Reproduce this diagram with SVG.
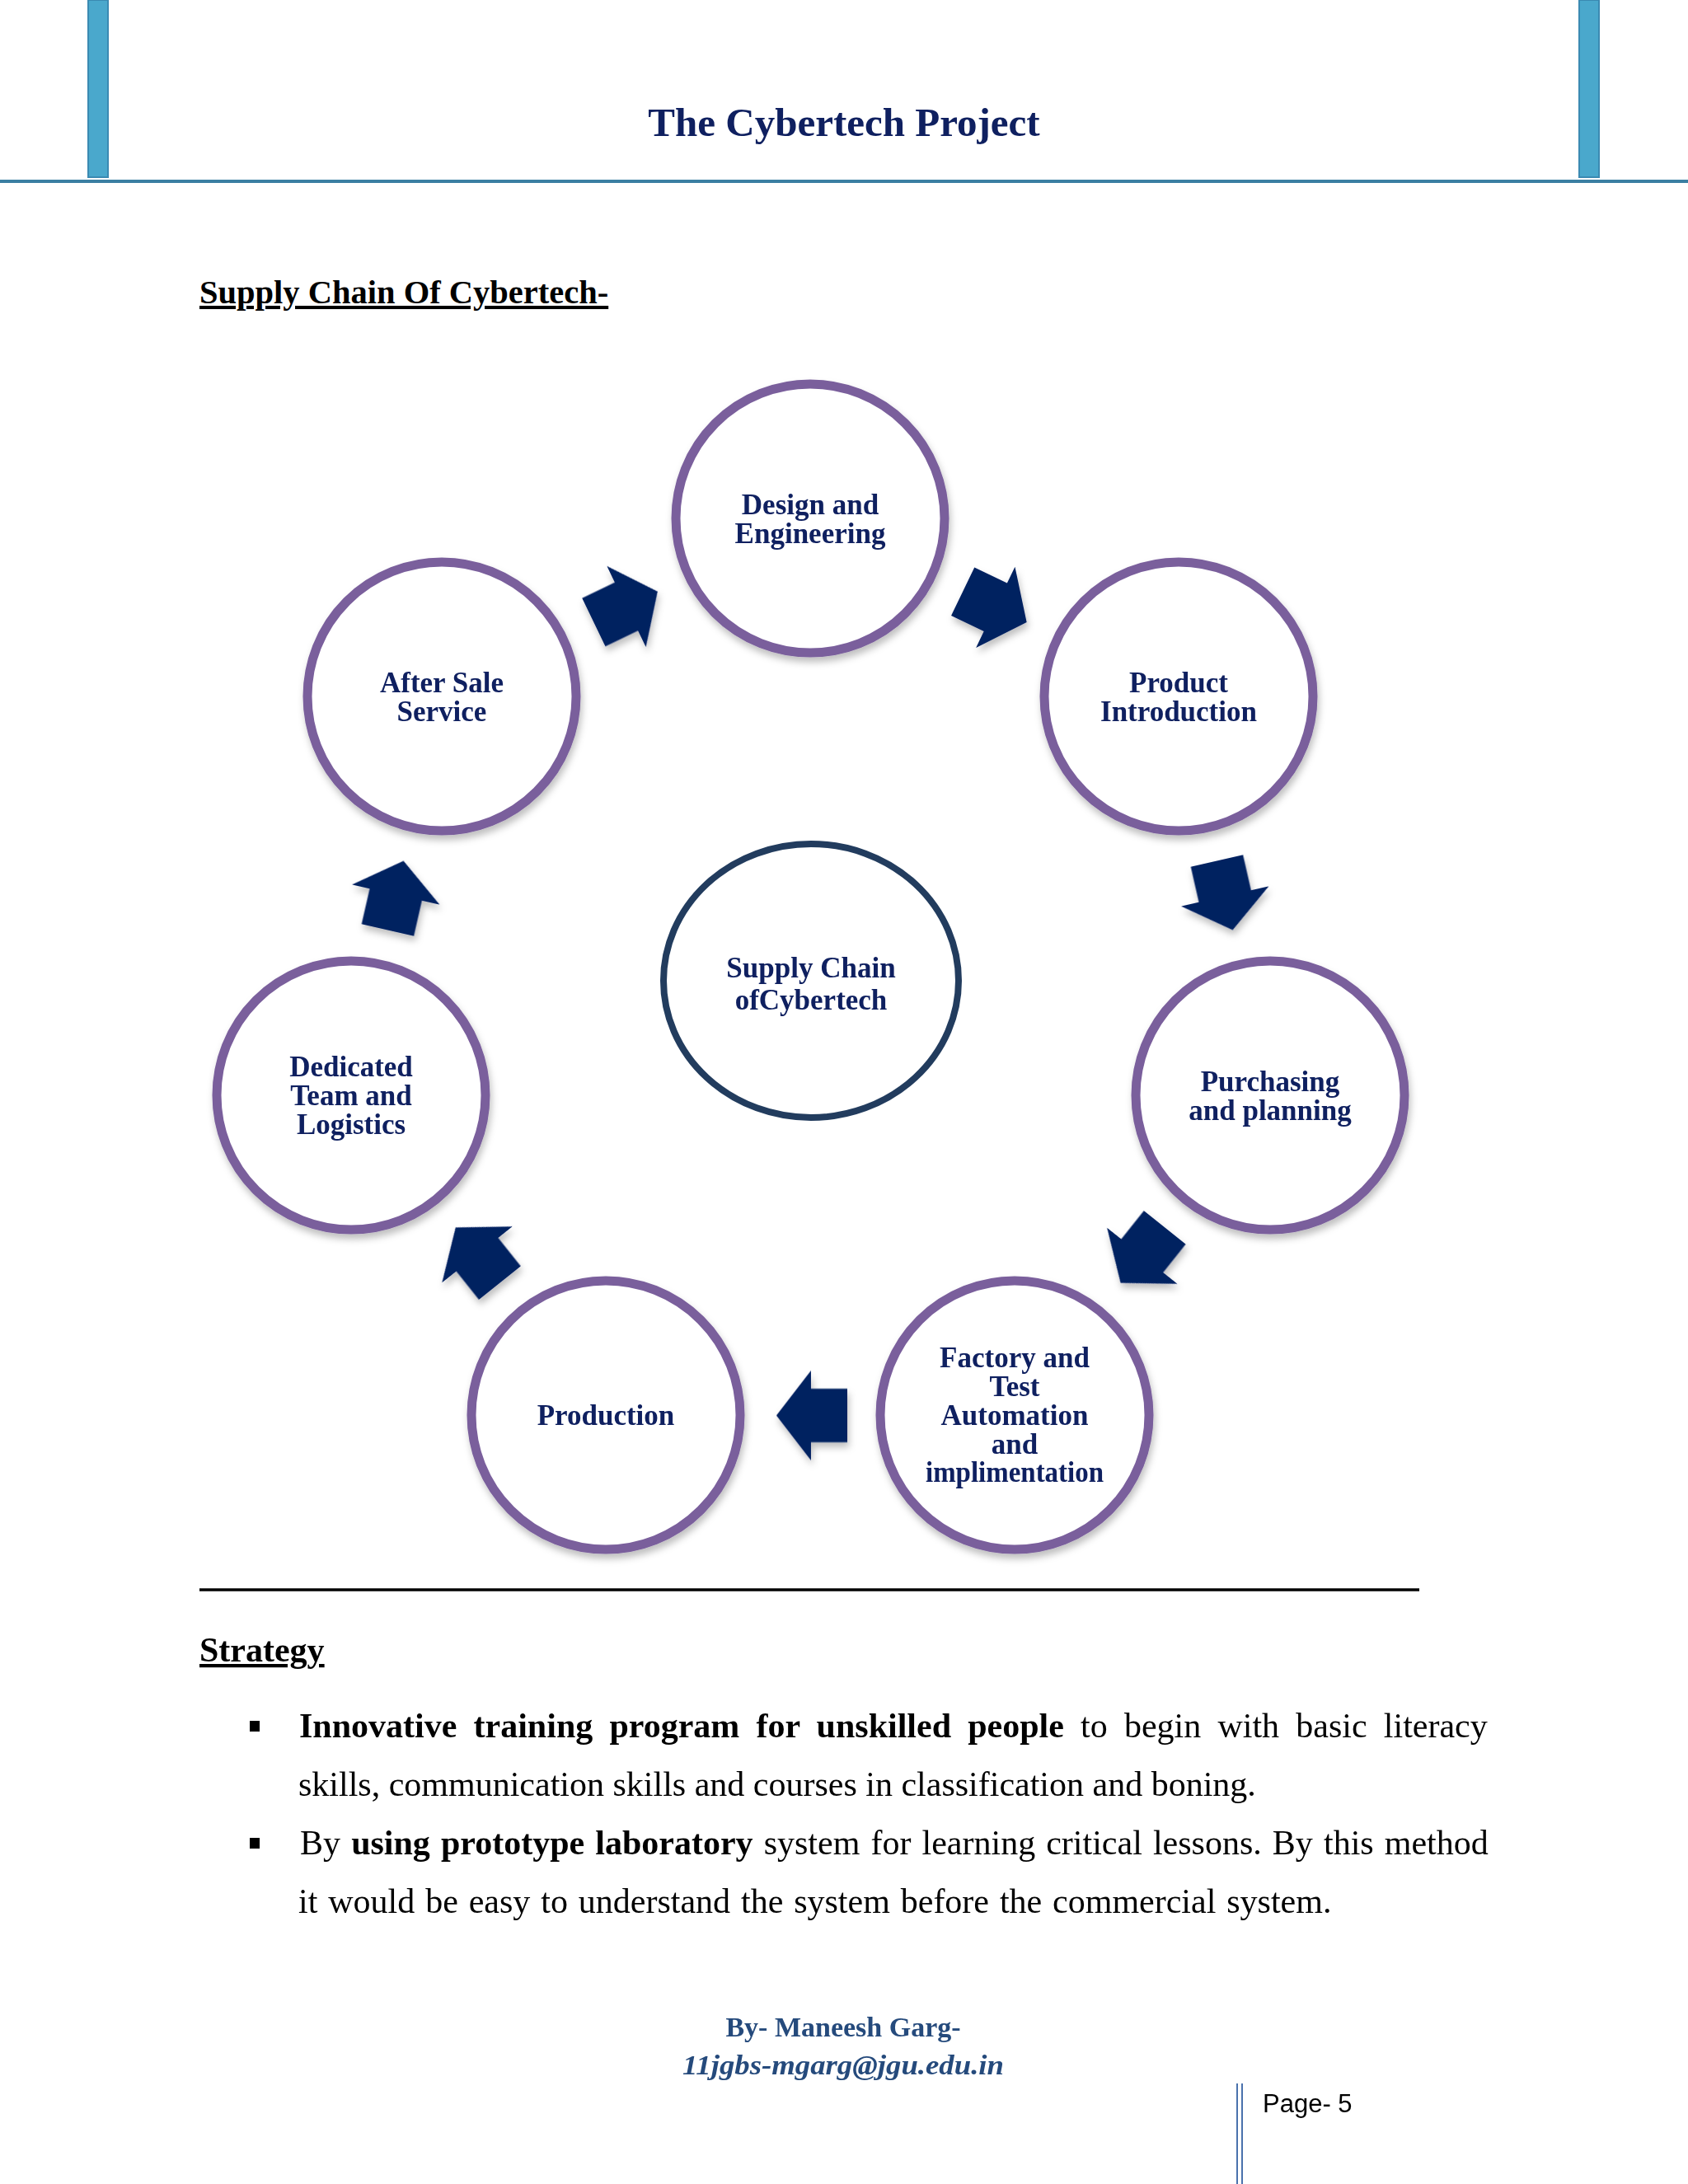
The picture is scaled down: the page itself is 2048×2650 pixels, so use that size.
<svg xmlns="http://www.w3.org/2000/svg" xmlns:xlink="http://www.w3.org/1999/xlink" width="2048" height="2650" viewBox="0 0 2048 2650">
  <style>
    .node { fill: #ffffff; stroke: #7a5f9c; stroke-width: 11; }
    .lbl { font-family: "Liberation Serif", "DejaVu Serif", serif; font-weight: bold; font-size: 35px; fill: #0f2060; text-anchor: middle; }
    .arrow { fill: #022061; }
    .body { font-family: "Liberation Serif", "DejaVu Serif", serif; font-size: 42px; fill: #000000; }
    .b { font-weight: bold; }
    .head { font-family: "Liberation Serif", "DejaVu Serif", serif; font-weight: bold; fill: #000000; text-decoration: underline; }
  </style>
  <defs>
    <filter id="sh" x="-20%" y="-20%" width="140%" height="140%">
      <feDropShadow dx="2" dy="6" stdDeviation="4" flood-color="#000000" flood-opacity="0.25"/>
    </filter>
    <path id="blk" d="M43,0 L1,-54.5 L1,-32.5 L-43,-32.5 L-43,32.5 L1,32.5 L1,54.5 Z"/>
  </defs>

  <rect x="0" y="0" width="2048" height="2650" fill="#ffffff"/>

  <!-- header -->
  <g id="header">
    <rect x="107" y="0" width="24" height="215" fill="#4aa8cc" stroke="#3b8ab2" stroke-width="2"/>
    <rect x="1916" y="0" width="24" height="215" fill="#4aa8cc" stroke="#3b8ab2" stroke-width="2"/>
    <line x1="0" y1="220" x2="2048" y2="220" stroke="#3a7fa2" stroke-width="4"/>
    <text x="1024" y="165" font-family="Liberation Serif, DejaVu Serif, serif" font-weight="bold" font-size="49" fill="#0f2060" text-anchor="middle">The Cybertech Project</text>
  </g>

  <text class="head" x="242" y="368" font-size="40.5">Supply Chain Of Cybertech-</text>

  <!-- connectors -->
  <g id="connectors" class="arrow" filter="url(#sh)">
    <use xlink:href="#blk" href="#blk" transform="translate(1206.9,736.4) rotate(25.71)"/>
    <use xlink:href="#blk" href="#blk" transform="translate(1486,1086.5) rotate(77.14)"/>
    <use xlink:href="#blk" href="#blk" transform="translate(1386.4,1523) rotate(128.57)"/>
    <use xlink:href="#blk" href="#blk" transform="translate(985,1717.5) rotate(180)"/>
    <use xlink:href="#blk" href="#blk" transform="translate(579.6,1523) rotate(231.43)"/>
    <use xlink:href="#blk" href="#blk" transform="translate(480,1086.5) rotate(282.86)"/>
    <use xlink:href="#blk" href="#blk" transform="translate(759.1,736.4) rotate(334.29)"/>
  </g>

  <!-- nodes -->
  <g id="node-design">
    <circle class="node" cx="983" cy="629" r="163" filter="url(#sh)"/>
    <text class="lbl" x="983" y="624">Design and</text>
    <text class="lbl" x="983" y="659">Engineering</text>
  </g>
  <g id="node-product">
    <circle class="node" cx="1430" cy="845" r="163" filter="url(#sh)"/>
    <text class="lbl" x="1430" y="840">Product</text>
    <text class="lbl" x="1430" y="875">Introduction</text>
  </g>
  <g id="node-purchasing">
    <circle class="node" cx="1541" cy="1329" r="163" filter="url(#sh)"/>
    <text class="lbl" x="1541" y="1324">Purchasing</text>
    <text class="lbl" x="1541" y="1359">and planning</text>
  </g>
  <g id="node-factory">
    <circle class="node" cx="1231" cy="1717" r="163" filter="url(#sh)"/>
    <text class="lbl" x="1231" y="1659">Factory and</text>
    <text class="lbl" x="1231" y="1694">Test</text>
    <text class="lbl" x="1231" y="1729">Automation</text>
    <text class="lbl" x="1231" y="1764">and</text>
    <text class="lbl" x="1231" y="1798" textLength="216" lengthAdjust="spacingAndGlyphs">implimentation</text>
  </g>
  <g id="node-production">
    <circle class="node" cx="735" cy="1717" r="163" filter="url(#sh)"/>
    <text class="lbl" x="735" y="1729">Production</text>
  </g>
  <g id="node-dedicated">
    <circle class="node" cx="426" cy="1329" r="163" filter="url(#sh)"/>
    <text class="lbl" x="426" y="1306">Dedicated</text>
    <text class="lbl" x="426" y="1341">Team and</text>
    <text class="lbl" x="426" y="1376">Logistics</text>
  </g>
  <g id="node-aftersale">
    <circle class="node" cx="536" cy="845" r="163" filter="url(#sh)"/>
    <text class="lbl" x="536" y="840">After Sale</text>
    <text class="lbl" x="536" y="875">Service</text>
  </g>
  <g id="node-center">
    <ellipse cx="984" cy="1190" rx="179" ry="166" fill="#ffffff" stroke="#223c5e" stroke-width="8"/>
    <text class="lbl" x="984" y="1186">Supply Chain</text>
    <text class="lbl" x="984" y="1225">ofCybertech</text>
  </g>

  <line x1="242" y1="1929" x2="1722" y2="1929" stroke="#000000" stroke-width="3.5"/>

  <text class="head" x="242" y="2016" font-size="42">Strategy</text>

  <!-- bullets -->
  <rect x="303" y="2088" width="12" height="13" fill="#000000"/>
  <rect x="303" y="2230" width="12" height="13" fill="#000000"/>

  <text class="body" x="363" y="2108" word-spacing="9.7"><tspan class="b">Innovative training program for unskilled people</tspan> to begin with basic literacy</text>
  <text class="body" x="362" y="2179">skills, communication skills and courses in classification and boning.</text>
  <text class="body" x="364" y="2250" word-spacing="2.6">By <tspan class="b">using prototype laboratory</tspan> system for learning critical lessons. By this method</text>
  <text class="body" x="362" y="2321" word-spacing="2.4">it would be easy to understand the system before the commercial system.</text>

  <!-- footer -->
  <g id="footer">
    <text x="1023" y="2471" font-family="Liberation Serif, DejaVu Serif, serif" font-weight="bold" font-size="34" fill="#254a7c" text-anchor="middle">By- Maneesh Garg-</text>
    <text x="1023" y="2517" font-family="Liberation Serif, DejaVu Serif, serif" font-weight="bold" font-style="italic" font-size="34" fill="#254a7c" text-anchor="middle" textLength="390" lengthAdjust="spacingAndGlyphs">11jgbs-mgarg@jgu.edu.in</text>
    <line x1="1501" y1="2528" x2="1501" y2="2650" stroke="#4a72ad" stroke-width="2"/>
    <line x1="1507" y1="2528" x2="1507" y2="2650" stroke="#4a72ad" stroke-width="2"/>
    <text x="1532" y="2563" font-family="Liberation Sans, Arial, sans-serif" font-size="31" fill="#000000">Page- 5</text>
  </g>
</svg>
